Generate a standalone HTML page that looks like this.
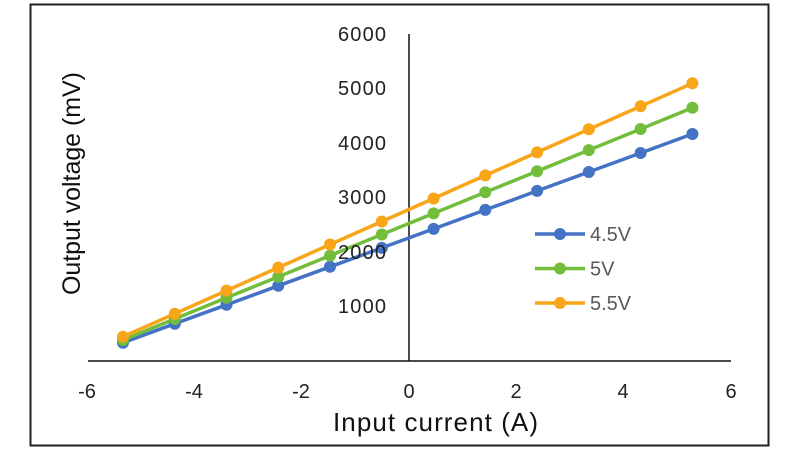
<!DOCTYPE html>
<html>
<head>
<meta charset="utf-8">
<style>
html,body{margin:0;padding:0;background:#fff;}
svg{display:block;}
text{font-family:"Liberation Sans","Noto Sans CJK JP",sans-serif;}
</style>
</head>
<body>
<svg width="800" height="450" viewBox="0 0 800 450" xmlns="http://www.w3.org/2000/svg">
<rect x="0" y="0" width="800" height="450" fill="#fff"/>
<rect x="30.5" y="4.5" width="738" height="441" fill="none" stroke="#222" stroke-width="2"/>

<!-- axes -->
<line x1="88" y1="361" x2="731" y2="361" stroke="#111" stroke-width="1.5"/>
<line x1="409" y1="34" x2="409" y2="361" stroke="#111" stroke-width="1.5"/>

<!-- series -->
<g fill="none" stroke-width="3.5" stroke-linejoin="round">
<polyline stroke="#4472C4" points="123,342.7 174.8,323.7 226.5,304.8 278.3,285.8 330,266.8 381.8,247.9 433.6,228.9 485.3,209.9 537.1,190.9 588.8,172 640.6,153 692.4,134"/>
<polyline stroke="#72BE3C" points="123,340 174.8,318.9 226.5,297.8 278.3,276.7 330,255.6 381.8,234.5 433.6,213.4 485.3,192.3 537.1,171.2 588.8,150.1 640.6,129 692.4,107.7"/>
<polyline stroke="#F9A51A" points="123,336.7 174.8,313.7 226.5,290.6 278.3,267.6 330,244.5 381.8,221.5 433.6,198.5 485.3,175.4 537.1,152.4 588.8,129.3 640.6,106.3 692.4,83.3"/>
</g>
<g fill="#4472C4">
<circle cx="123" cy="342.7" r="6"/><circle cx="174.8" cy="323.7" r="6"/><circle cx="226.5" cy="304.8" r="6"/><circle cx="278.3" cy="285.8" r="6"/><circle cx="330" cy="266.8" r="6"/><circle cx="381.8" cy="247.9" r="6"/><circle cx="433.6" cy="228.9" r="6"/><circle cx="485.3" cy="209.9" r="6"/><circle cx="537.1" cy="190.9" r="6"/><circle cx="588.8" cy="172" r="6"/><circle cx="640.6" cy="153" r="6"/><circle cx="692.4" cy="134" r="6"/>
</g>
<g fill="#72BE3C">
<circle cx="123" cy="340" r="6"/><circle cx="174.8" cy="318.9" r="6"/><circle cx="226.5" cy="297.8" r="6"/><circle cx="278.3" cy="276.7" r="6"/><circle cx="330" cy="255.6" r="6"/><circle cx="381.8" cy="234.5" r="6"/><circle cx="433.6" cy="213.4" r="6"/><circle cx="485.3" cy="192.3" r="6"/><circle cx="537.1" cy="171.2" r="6"/><circle cx="588.8" cy="150.1" r="6"/><circle cx="640.6" cy="129" r="6"/><circle cx="692.4" cy="107.7" r="6"/>
</g>
<g fill="#F9A51A">
<circle cx="123" cy="336.7" r="6"/><circle cx="174.8" cy="313.7" r="6"/><circle cx="226.5" cy="290.6" r="6"/><circle cx="278.3" cy="267.6" r="6"/><circle cx="330" cy="244.5" r="6"/><circle cx="381.8" cy="221.5" r="6"/><circle cx="433.6" cy="198.5" r="6"/><circle cx="485.3" cy="175.4" r="6"/><circle cx="537.1" cy="152.4" r="6"/><circle cx="588.8" cy="129.3" r="6"/><circle cx="640.6" cy="106.3" r="6"/><circle cx="692.4" cy="83.3" r="6"/>
</g>

<!-- y tick labels -->
<g font-size="20" fill="#222">
<text x="338" y="41" textLength="48">6000</text>
<text x="338" y="95" textLength="48">5000</text>
<text x="338" y="150" textLength="48">4000</text>
<text x="338" y="204" textLength="48">3000</text>
<text x="338" y="259" textLength="48">2000</text>
<text x="338" y="313" textLength="48">1000</text>
</g>

<!-- x tick labels -->
<g font-size="20" fill="#222" text-anchor="middle">
<text x="87" y="398">-6</text>
<text x="194" y="398">-4</text>
<text x="301" y="398">-2</text>
<text x="409" y="398">0</text>
<text x="516" y="398">2</text>
<text x="623" y="398">4</text>
<text x="731" y="398">6</text>
</g>

<!-- axis titles -->
<text x="333" y="431" font-size="26" fill="#111" textLength="205">Input current (A)</text>
<text transform="translate(80,295) rotate(-90)" font-size="25" fill="#111" textLength="223">Output voltage (mV)</text>

<!-- legend -->
<g stroke-width="3.5">
<line x1="535" y1="234" x2="585" y2="234" stroke="#4472C4"/>
<line x1="535" y1="268.5" x2="585" y2="268.5" stroke="#72BE3C"/>
<line x1="535" y1="303" x2="585" y2="303" stroke="#F9A51A"/>
</g>
<circle cx="560" cy="234" r="6" fill="#4472C4"/>
<circle cx="560" cy="268.5" r="6" fill="#72BE3C"/>
<circle cx="560" cy="303" r="6" fill="#F9A51A"/>
<g font-size="20" fill="#595959">
<text x="590" y="241">4.5V</text>
<text x="590" y="275.5">5V</text>
<text x="590" y="310">5.5V</text>
</g>
</svg>
</body>
</html>
